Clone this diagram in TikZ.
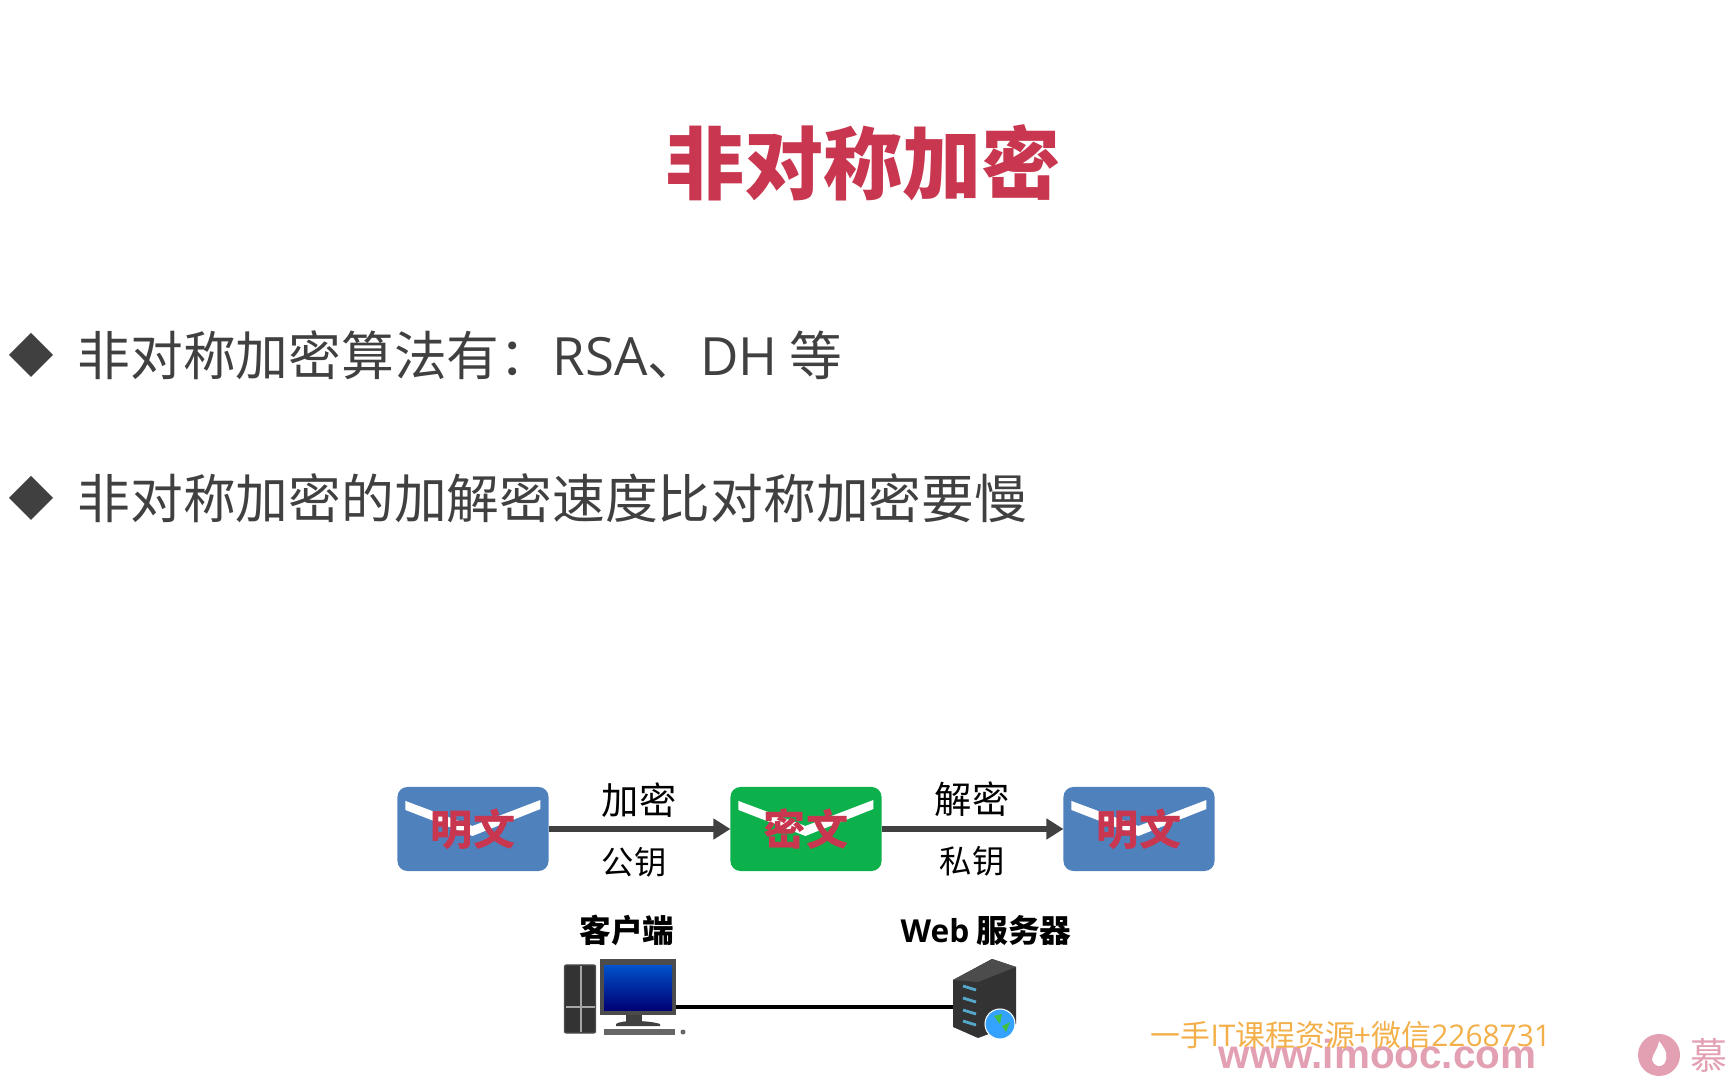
\documentclass[tikz,border=0pt]{standalone}
\usepackage{fontspec}
\setmainfont{Noto Sans CJK SC}
\newfontfamily\lat{Open Sans}
\newfontfamily\wmark{Liberation Sans}
\usetikzlibrary{arrows.meta}

\definecolor{titlered}{HTML}{C8374F}
\definecolor{bodygray}{HTML}{404040}
\definecolor{envblue}{HTML}{4F81BD}
\definecolor{envgreen}{HTML}{0DB14B}
\definecolor{wmorange}{HTML}{F3B04A}
\definecolor{wmpink}{HTML}{E3A0B2}

\tikzset{
  every envelope/.style={rectangle, rounded corners=1mm, minimum width=1.51cm, minimum height=0.84cm, inner sep=0, outer sep=0},
  envelope text/.style={text=titlered, font=\fontsize{12}{12}\selectfont\bfseries, inner sep=0},
  bullet line/.style={anchor=west, text=bodygray, font=\fontsize{15}{15}\selectfont, inner sep=0},
  flow label/.style={text=black, inner sep=0},
  host label/.style={text=black, font=\fontsize{9}{9}\selectfont\bfseries, inner sep=0},
  flow arrow/.style={-{Triangle[length=1.7mm,width=2.0mm]}, draw=bodygray, line width=1.5pt},
}

\begin{document}
\begin{tikzpicture}[x=0.01cm, y=-0.01cm]

\useasboundingbox (0,0) rectangle (1728,1080);

\node [text=titlered, font=\fontsize{22.5}{22.5}\selectfont\bfseries, inner sep=0] (title) at (863,163) {非对称加密};

% bullets
\foreach \l/\y [count=\i] in {{非对称加密算法有：{\lat RSA}、{\lat DH} 等}/355, 非对称加密的加解密速度比对称加密要慢/498} {
  \node [fill=bodygray, diamond-free/.try, inner sep=0] (mark-\i) at (31,\y) {};
  \fill [bodygray] (9,\y) -- (31,\y-22) -- (53,\y) -- (31,\y+22) -- cycle;
  \node [bullet line] (line-\i) at (77,\y) {\l};
}

% envelopes
\foreach \x/\c/\l [count=\i] in {473/envblue/明文, 806/envgreen/密文, 1139/envblue/明文} {
  \node [every envelope, fill=\c] (env-\i) at (\x,829) {};
  \fill [white] ([shift={(8,14)}]env-\i.north west) -- ([shift={(75,39)}]env-\i.north west)
    -- ([shift={(143,13)}]env-\i.north west) -- ([shift={(143,22)}]env-\i.north west)
    -- ([shift={(75,49)}]env-\i.north west) -- ([shift={(8,23)}]env-\i.north west) -- cycle;
  \node [envelope text] (plain-\i) at (\x,829) {\l};
}

\draw [flow arrow] (env-1) -- (env-2);
\draw [flow arrow] (env-2) -- (env-3);

\node [flow label, font=\fontsize{10.6}{10.6}\selectfont] (encrypt) at (639,800) {加密};
\node [flow label, font=\fontsize{9.2}{9.2}\selectfont] (pubkey) at (634,862) {公钥};
\node [flow label, font=\fontsize{10.6}{10.6}\selectfont] (decrypt) at (972,799) {解密};
\node [flow label, font=\fontsize{9.2}{9.2}\selectfont] (privkey) at (972,861) {私钥};

\node [host label] (client) at (627,930) {客户端};
\node [host label] (web) at (986,930) {{\lat Web} 服务器};

% client machine
\node [draw=gray!60!black, fill=black!80, minimum width=0.31cm, minimum height=0.68cm, inner sep=0, outer sep=0, rounded corners=0.2mm] (tower) at (580,999) {};
\draw [gray!70, line width=0.3pt] (581,966) -- (581,1032) (566,1007) -- (595,1007);
\fill [black!75] (626,1015) rectangle (642,1024);
\fill [black!75] (616,1024) .. controls (620,1020) and (648,1020) .. (660,1024) -- (660,1026) -- (616,1026) -- cycle;
\fill [black!60] (604,1029) rectangle (675,1035);
\fill [black!60] (683,1032) circle (2.5);
\node [fill=black!70, minimum width=0.76cm, minimum height=0.55cm, inner sep=0, outer sep=0] (monitor) at (638,987) {};
\shade [top color=blue!60!cyan!80!black, bottom color=blue!45!black] (604,965) rectangle (672,1010);
\coordinate (client-link) at (monitor.east |- 0,1007);

% web server
\fill [black!80] (953,980) -- (992,959) -- (1016,967) -- (1016,1024) -- (978,1038) -- (953,1027) -- cycle;
\fill [black!70] (953,980) -- (992,959) -- (1016,967) -- (978,982) -- cycle;
\foreach \y in {988,1000,1012,1023}
  \draw [cyan!60!gray, line width=0.8pt] (963,\y-2) -- (976,\y+2);
\node [circle, minimum size=0.3cm, inner sep=0, outer sep=0, fill=blue!45!cyan!80, draw=white, line width=0.3pt] (globe) at (1000,1024) {};
\fill [green!50!gray] (994,1016) -- (1002,1014) -- (1000,1024) -- cycle (1002,1026) -- (1010,1022) -- (1006,1032) -- cycle;
\coordinate (server-link) at (953,1007);

\draw [black, line width=1.4pt] (client-link) -- (server-link);

% watermark
\node [anchor=west, inner sep=0, text=wmpink, font=\wmark\fontsize{11.5}{11.5}\selectfont\bfseries] (site) at (1218,1054) {www.imooc.com};
\node [anchor=west, inner sep=0, text=wmorange, font=\fontsize{8.5}{8.5}\selectfont] (promo) at (1150,1035) {一手{\lat IT}课程资源+微信{\lat 2268731}};
\node [circle, fill=wmpink, minimum size=0.42cm, inner sep=0] (logo) at (1659,1055) {};
\fill [white] (1659,1041) .. controls (1666,1050) and (1669,1056) .. (1664,1064) .. controls (1660,1068) and (1654,1066) .. (1652,1060) .. controls (1652,1054) and (1658,1050) .. (1659,1041) -- cycle;
\node [anchor=west, inner sep=0, text=wmpink, font=\fontsize{10.5}{10.5}\selectfont] (brand) at (1690,1055) {慕};

\end{tikzpicture}
\end{document}
